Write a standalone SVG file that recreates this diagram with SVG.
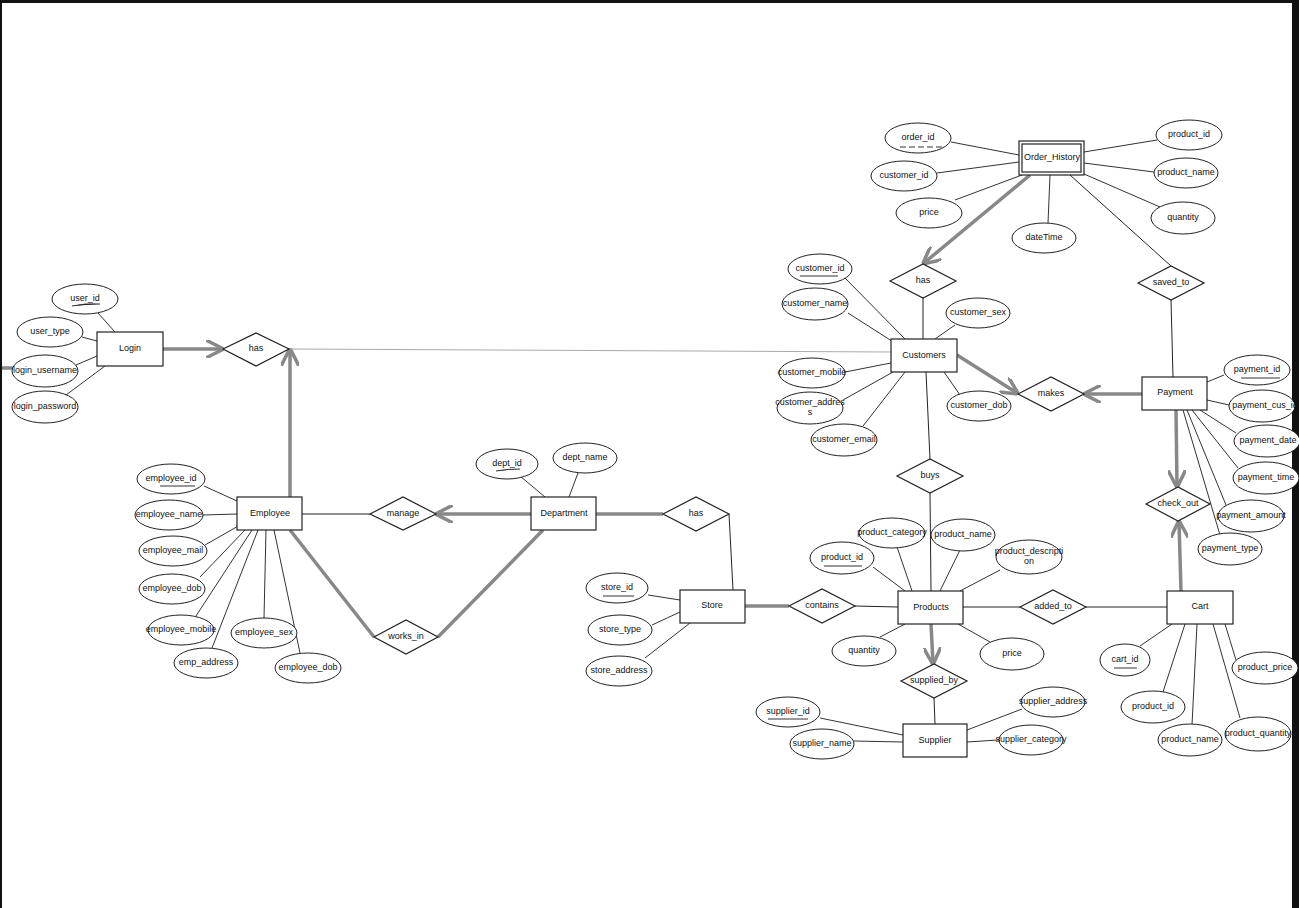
<svg xmlns="http://www.w3.org/2000/svg" width="1299" height="908" viewBox="0 0 1299 908">
<style>
text{font-family:"Liberation Sans",Arial,sans-serif;font-size:9px;text-anchor:middle;dominant-baseline:middle;fill:#111}
.e{fill:#fff;stroke:#222;stroke-width:1}
.r{fill:#fff;stroke:#222;stroke-width:1.2}
.l{stroke:#222;stroke-width:1;fill:none}
.t{stroke:#888;stroke-width:3.5;fill:none}
.g{stroke:#aaa;stroke-width:1;fill:none}
.k{stroke:#333;stroke-width:1}
</style>
<defs>
<marker id="a" viewBox="0 0 10 10" refX="9" refY="5" markerWidth="5" markerHeight="5" orient="auto"><path d="M0,0L10,5L0,10" fill="none" stroke="#888" stroke-width="2"/></marker>
</defs>
<rect width="1299" height="908" fill="#fff"/>
<rect x="0" y="0" width="1299" height="3" fill="#111"/>
<rect x="1292" y="0" width="7" height="908" fill="#111"/>
<rect x="0" y="0" width="2" height="908" fill="#111"/>
<g id="connectors">
<line class="t" x1="163" y1="349" x2="222" y2="349" marker-end="url(#a)"/>
<line class="t" x1="290" y1="497" x2="290" y2="350" marker-end="url(#a)"/>
<line class="g" x1="891" y1="352" x2="290" y2="349"/>
<line class="t" x1="531" y1="514" x2="437" y2="514" marker-end="url(#a)"/>
<line class="l" x1="302" y1="514" x2="370" y2="514"/>
<line class="t" x1="290" y1="530" x2="374" y2="637"/>
<line class="t" x1="543" y1="530" x2="438" y2="637"/>
<line class="t" x1="596" y1="514" x2="663" y2="514"/>
<line class="l" x1="729" y1="514" x2="733" y2="590"/>
<line class="t" x1="745" y1="606" x2="789" y2="606"/>
<line class="l" x1="855" y1="606" x2="898" y2="607"/>
<line class="l" x1="963" y1="607" x2="1020" y2="607"/>
<line class="l" x1="1086" y1="607" x2="1167" y2="607"/>
<line class="t" x1="931" y1="624" x2="933" y2="663" marker-end="url(#a)"/>
<line class="l" x1="934" y1="698" x2="935" y2="724"/>
<line class="l" x1="931" y1="591" x2="930" y2="493"/>
<line class="l" x1="930" y1="459" x2="926" y2="372"/>
<line class="l" x1="923" y1="339" x2="923" y2="298"/>
<line class="t" x1="1030" y1="175" x2="924" y2="263" marker-end="url(#a)"/>
<line class="l" x1="1070" y1="175" x2="1171" y2="266"/>
<line class="l" x1="1171" y1="300" x2="1173" y2="377"/>
<line class="t" x1="957" y1="355" x2="1017" y2="393" marker-end="url(#a)"/>
<line class="t" x1="1142" y1="394" x2="1085" y2="394" marker-end="url(#a)"/>
<line class="t" x1="1176" y1="410" x2="1177" y2="486" marker-end="url(#a)"/>
<line class="t" x1="1181" y1="591" x2="1179" y2="522" marker-end="url(#a)"/>
<line class="t" x1="2" y1="368" x2="14" y2="368"/>
<!-- attribute links -->
<line class="k" x1="98" y1="313" x2="115" y2="332"/>
<line class="k" x1="82" y1="337" x2="97" y2="341"/>
<line class="k" x1="76" y1="365" x2="97" y2="356"/>
<line class="k" x1="66" y1="395" x2="105" y2="366"/>
<line class="k" x1="204" y1="486" x2="237" y2="501"/>
<line class="k" x1="203" y1="515" x2="237" y2="514"/>
<line class="k" x1="205" y1="545" x2="240" y2="525"/>
<line class="k" x1="200" y1="577" x2="245" y2="530"/>
<line class="k" x1="196" y1="616" x2="252" y2="530"/>
<line class="k" x1="212" y1="648" x2="258" y2="530"/>
<line class="k" x1="264" y1="618" x2="266" y2="530"/>
<line class="k" x1="300" y1="653" x2="274" y2="530"/>
<line class="k" x1="520" y1="476" x2="545" y2="497"/>
<line class="k" x1="578" y1="473" x2="569" y2="497"/>
<line class="k" x1="648" y1="595" x2="680" y2="600"/>
<line class="k" x1="652" y1="625" x2="680" y2="612"/>
<line class="k" x1="645" y1="658" x2="690" y2="623"/>
<line class="k" x1="845" y1="278" x2="905" y2="339"/>
<line class="k" x1="848" y1="313" x2="898" y2="345"/>
<line class="k" x1="955" y1="325" x2="935" y2="339"/>
<line class="k" x1="845" y1="372" x2="891" y2="363"/>
<line class="k" x1="843" y1="400" x2="893" y2="372"/>
<line class="k" x1="863" y1="426" x2="905" y2="372"/>
<line class="k" x1="960" y1="395" x2="944" y2="372"/>
<line class="k" x1="951" y1="142" x2="1019" y2="155"/>
<line class="k" x1="937" y1="173" x2="1019" y2="162"/>
<line class="k" x1="955" y1="200" x2="1022" y2="175"/>
<line class="k" x1="1048" y1="223" x2="1050" y2="175"/>
<line class="k" x1="1157" y1="140" x2="1084" y2="152"/>
<line class="k" x1="1154" y1="172" x2="1084" y2="163"/>
<line class="k" x1="1160" y1="207" x2="1084" y2="174"/>
<line class="k" x1="1224" y1="375" x2="1207" y2="382"/>
<line class="k" x1="1229" y1="405" x2="1207" y2="400"/>
<line class="k" x1="1236" y1="433" x2="1200" y2="410"/>
<line class="k" x1="1238" y1="468" x2="1192" y2="410"/>
<line class="k" x1="1226" y1="505" x2="1187" y2="410"/>
<line class="k" x1="1220" y1="535" x2="1183" y2="410"/>
<line class="k" x1="897" y1="547" x2="912" y2="591"/>
<line class="k" x1="960" y1="550" x2="940" y2="591"/>
<line class="k" x1="873" y1="567" x2="905" y2="591"/>
<line class="k" x1="1000" y1="570" x2="960" y2="591"/>
<line class="k" x1="880" y1="637" x2="905" y2="624"/>
<line class="k" x1="990" y1="642" x2="958" y2="624"/>
<line class="k" x1="820" y1="718" x2="903" y2="735"/>
<line class="k" x1="854" y1="741" x2="903" y2="742"/>
<line class="k" x1="1022" y1="709" x2="967" y2="730"/>
<line class="k" x1="998" y1="740" x2="967" y2="742"/>
<line class="k" x1="1140" y1="646" x2="1172" y2="624"/>
<line class="k" x1="1163" y1="692" x2="1185" y2="624"/>
<line class="k" x1="1192" y1="725" x2="1197" y2="624"/>
<line class="k" x1="1240" y1="718" x2="1213" y2="624"/>
<line class="k" x1="1236" y1="660" x2="1225" y2="624"/>
</g>
<g id="login"><rect class="r" x="97" y="332" width="66" height="34"/><text x="130" y="349">Login</text></g>
<g id="employee"><rect class="r" x="237" y="497" width="65" height="33"/><text x="270" y="514">Employee</text></g>
<g id="department"><rect class="r" x="531" y="497" width="65" height="33"/><text x="564" y="514">Department</text></g>
<g id="store"><rect class="r" x="680" y="590" width="65" height="33"/><text x="712" y="606">Store</text></g>
<g id="products"><rect class="r" x="898" y="591" width="65" height="33"/><text x="931" y="608">Products</text></g>
<g id="supplier"><rect class="r" x="903" y="724" width="64" height="33"/><text x="935" y="741">Supplier</text></g>
<g id="cart"><rect class="r" x="1167" y="591" width="66" height="33"/><text x="1200" y="607">Cart</text></g>
<g id="payment"><rect class="r" x="1142" y="377" width="65" height="33"/><text x="1175" y="393">Payment</text></g>
<g id="customers"><rect class="r" x="891" y="339" width="66" height="33"/><text x="924" y="356">Customers</text></g>
<g id="order_history"><rect class="r" x="1019" y="141" width="65" height="34"/><rect class="r" x="1022" y="144" width="59" height="28"/><text x="1052" y="158">Order_History</text></g>
<g id="rel_has_login"><polygon class="r" points="223,349 256,333 289,349 256,366"/><text x="256" y="349">has</text></g>
<g id="rel_manage"><polygon class="r" points="370,514 403,497 436,514 403,530"/><text x="403" y="514">manage</text></g>
<g id="rel_works_in"><polygon class="r" points="374,637 406,620 438,637 406,654"/><text x="406" y="637">works_in</text></g>
<g id="rel_has_store"><polygon class="r" points="663,514 696,497 729,514 696,531"/><text x="696" y="514">has</text></g>
<g id="rel_contains"><polygon class="r" points="789,606 822,589 855,606 822,623"/><text x="822" y="606">contains</text></g>
<g id="rel_added_to"><polygon class="r" points="1020,607 1053,590 1086,607 1053,624"/><text x="1053" y="607">added_to</text></g>
<g id="rel_supplied_by"><polygon class="r" points="901,681 934,664 967,681 934,698"/><text x="934" y="681">supplied_by</text></g>
<g id="rel_buys"><polygon class="r" points="897,476 930,459 963,476 930,493"/><text x="930" y="476">buys</text></g>
<g id="rel_has_order"><polygon class="r" points="890,281 923,264 956,281 923,298"/><text x="923" y="281">has</text></g>
<g id="rel_saved_to"><polygon class="r" points="1138,283 1171,266 1204,283 1171,300"/><text x="1171" y="283">saved_to</text></g>
<g id="rel_makes"><polygon class="r" points="1018,394 1051,377 1084,394 1051,411"/><text x="1051" y="394">makes</text></g>
<g id="rel_check_out"><polygon class="r" points="1146,504 1178,487 1210,504 1178,521"/><text x="1178" y="504">check_out</text></g>
<g id="attributes">
<g><ellipse class="e" cx="85" cy="299" rx="33" ry="15"/><text x="85" y="299">user_id</text><path class="k" d="M72 306 Q85 303 100 304"/></g>
<g><ellipse class="e" cx="50" cy="332" rx="33" ry="15"/><text x="50" y="332">user_type</text></g>
<g><ellipse class="e" cx="45" cy="371" rx="33" ry="16"/><text x="45" y="371">login_username</text></g>
<g><ellipse class="e" cx="45" cy="407" rx="33" ry="16"/><text x="45" y="407">login_password</text></g>
<g><ellipse class="e" cx="171" cy="479" rx="34" ry="15"/><text x="171" y="479">employee_id</text><path class="k" d="M160 486 H195"/></g>
<g><ellipse class="e" cx="169" cy="515" rx="34" ry="15"/><text x="169" y="515">employee_name</text></g>
<g><ellipse class="e" cx="173" cy="551" rx="34" ry="15"/><text x="173" y="551">employee_mail</text></g>
<g><ellipse class="e" cx="172" cy="589" rx="33" ry="15"/><text x="172" y="589">employee_dob</text></g>
<g><ellipse class="e" cx="181" cy="630" rx="33" ry="15"/><text x="181" y="630">employee_mobile</text></g>
<g><ellipse class="e" cx="206" cy="663" rx="32" ry="15"/><text x="206" y="663">emp_address</text></g>
<g><ellipse class="e" cx="264" cy="633" rx="33" ry="15"/><text x="264" y="633">employee_sex</text></g>
<g><ellipse class="e" cx="308" cy="668" rx="33" ry="15"/><text x="308" y="668">employee_dob</text></g>
<g><ellipse class="e" cx="507" cy="464" rx="31" ry="15"/><text x="507" y="464">dept_id</text><path class="k" d="M496 471 Q507 469 520 469"/></g>
<g><ellipse class="e" cx="585" cy="458" rx="32" ry="15"/><text x="585" y="458">dept_name</text></g>
<g><ellipse class="e" cx="617" cy="588" rx="31" ry="15"/><text x="617" y="588">store_id</text><path class="k" d="M603 596 H634"/></g>
<g><ellipse class="e" cx="620" cy="630" rx="32" ry="15"/><text x="620" y="630">store_type</text></g>
<g><ellipse class="e" cx="619" cy="671" rx="33" ry="15"/><text x="619" y="671">store_address</text></g>
<g><ellipse class="e" cx="820" cy="269" rx="32" ry="15"/><text x="820" y="269">customer_id</text><path class="k" d="M800 276 H838"/></g>
<g><ellipse class="e" cx="815" cy="304" rx="33" ry="16"/><text x="815" y="304">customer_name</text></g>
<g><ellipse class="e" cx="978" cy="313" rx="32" ry="15"/><text x="978" y="313">customer_sex</text></g>
<g><ellipse class="e" cx="812" cy="373" rx="33" ry="15"/><text x="812" y="373">customer_mobile</text></g>
<g><ellipse class="e" cx="810" cy="408" rx="33" ry="16"/><text x="810" y="403">customer_addres</text><text x="810" y="413">s</text></g>
<g><ellipse class="e" cx="979" cy="406" rx="32" ry="15"/><text x="979" y="406">customer_dob</text></g>
<g><ellipse class="e" cx="844" cy="440" rx="33" ry="16"/><text x="844" y="440">customer_email</text></g>
<g><ellipse class="e" cx="918" cy="138" rx="33" ry="15"/><text x="918" y="138">order_id</text><path class="k" d="M900 147 H945" stroke-dasharray="6,3"/></g>
<g><ellipse class="e" cx="904" cy="176" rx="33" ry="15"/><text x="904" y="176">customer_id</text></g>
<g><ellipse class="e" cx="929" cy="213" rx="33" ry="15"/><text x="929" y="213">price</text></g>
<g><ellipse class="e" cx="1044" cy="238" rx="32" ry="15"/><text x="1044" y="238">dateTime</text></g>
<g><ellipse class="e" cx="1189" cy="135" rx="33" ry="15"/><text x="1189" y="135">product_id</text></g>
<g><ellipse class="e" cx="1186" cy="173" rx="32" ry="15"/><text x="1186" y="173">product_name</text></g>
<g><ellipse class="e" cx="1183" cy="218" rx="32" ry="16"/><text x="1183" y="218">quantity</text></g>
<g><ellipse class="e" cx="1257" cy="370" rx="33" ry="15"/><text x="1257" y="370">payment_id</text><path class="k" d="M1241 378 H1280"/></g>
<g><ellipse class="e" cx="1262" cy="406" rx="33" ry="16"/><text x="1265" y="406">payment_cus_id</text></g>
<g><ellipse class="e" cx="1267" cy="441" rx="33" ry="16"/><text x="1268" y="441">payment_date</text></g>
<g><ellipse class="e" cx="1266" cy="478" rx="33" ry="16"/><text x="1266" y="478">payment_time</text></g>
<g><ellipse class="e" cx="1251" cy="516" rx="33" ry="16"/><text x="1251" y="516">payment_amount</text></g>
<g><ellipse class="e" cx="1230" cy="549" rx="32" ry="16"/><text x="1230" y="549">payment_type</text></g>
<g><ellipse class="e" cx="892" cy="533" rx="33" ry="15"/><text x="892" y="533">product_category</text></g>
<g><ellipse class="e" cx="963" cy="535" rx="32" ry="16"/><text x="963" y="535">product_name</text></g>
<g><ellipse class="e" cx="842" cy="558" rx="32" ry="16"/><text x="842" y="558">product_id</text><path class="k" d="M824 566 H862"/></g>
<g><ellipse class="e" cx="1029" cy="557" rx="33" ry="17"/><text x="1029" y="552">product_descripti</text><text x="1029" y="562">on</text></g>
<g><ellipse class="e" cx="864" cy="651" rx="32" ry="15"/><text x="864" y="651">quantity</text></g>
<g><ellipse class="e" cx="1012" cy="654" rx="32" ry="16"/><text x="1012" y="654">price</text></g>
<g><ellipse class="e" cx="788" cy="712" rx="32" ry="15"/><text x="788" y="712">supplier_id</text><path class="k" d="M768 719 H808"/></g>
<g><ellipse class="e" cx="822" cy="744" rx="32" ry="15"/><text x="822" y="744">supplier_name</text></g>
<g><ellipse class="e" cx="1053" cy="702" rx="32" ry="15"/><text x="1053" y="702">supplier_address</text></g>
<g><ellipse class="e" cx="1031" cy="740" rx="32" ry="15"/><text x="1031" y="740">supplier_category</text></g>
<g><ellipse class="e" cx="1125" cy="660" rx="25" ry="16"/><text x="1125" y="660">cart_id</text><path class="k" d="M1114 668 H1137"/></g>
<g><ellipse class="e" cx="1153" cy="707" rx="32" ry="16"/><text x="1153" y="707">product_id</text></g>
<g><ellipse class="e" cx="1190" cy="740" rx="32" ry="16"/><text x="1190" y="740">product_name</text></g>
<g><ellipse class="e" cx="1258" cy="734" rx="33" ry="17"/><text x="1258" y="734">product_quantity</text></g>
<g><ellipse class="e" cx="1265" cy="668" rx="33" ry="16"/><text x="1265" y="668">product_price</text></g>
</g>
</svg>
